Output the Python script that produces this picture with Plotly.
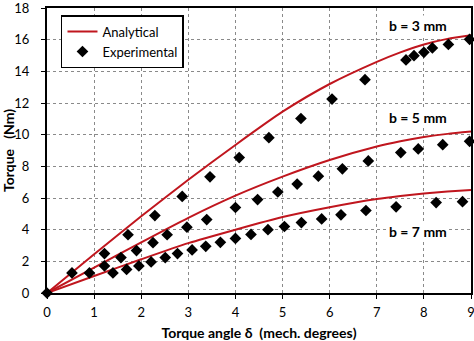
import plotly.graph_objects as go

# Analytical curves
ana_x = [0, 1, 2, 3, 4, 5, 6, 7, 7.5, 8, 8.5, 9]
ana_b3 = [0, 2.45, 4.85, 7.15, 9.35, 11.45, 13.2, 14.6, 15.2, 15.7, 16.05, 16.28]
ana_b5 = [0, 1.6, 3.2, 4.75, 6.15, 7.35, 8.4, 9.25, 9.58, 9.85, 10.05, 10.2]
ana_b7 = [0, 1.07, 2.13, 3.15, 4.0, 4.8, 5.42, 5.94, 6.13, 6.29, 6.41, 6.5]

# Experimental points
exp3_x = [0, 0.53, 1.22, 1.72, 2.29, 2.87, 3.46, 4.08, 4.71, 5.39, 6.05, 6.75, 7.62, 7.79, 8.00, 8.18, 8.52, 8.97]
exp3_y = [0, 1.27, 2.49, 3.68, 4.89, 6.10, 7.34, 8.55, 9.81, 11.02, 12.25, 13.47, 14.72, 14.99, 15.20, 15.48, 15.70, 16.02]
exp5_x = [0.90, 1.22, 1.57, 1.90, 2.25, 2.55, 2.97, 3.39, 4.00, 4.47, 4.90, 5.31, 5.76, 6.27, 6.82, 7.51, 7.88, 8.40, 8.97]
exp5_y = [1.27, 1.71, 2.24, 2.68, 3.18, 3.68, 4.16, 4.64, 5.40, 5.90, 6.38, 6.88, 7.38, 7.84, 8.34, 8.87, 9.10, 9.37, 9.58]
exp7_x = [1.40, 1.69, 1.95, 2.21, 2.51, 2.77, 3.08, 3.37, 3.68, 4.00, 4.33, 4.69, 5.04, 5.40, 5.83, 6.24, 6.77, 7.41, 8.26, 8.82]
exp7_y = [1.27, 1.49, 1.71, 1.96, 2.24, 2.49, 2.72, 2.95, 3.20, 3.45, 3.70, 4.00, 4.20, 4.45, 4.68, 4.94, 5.21, 5.44, 5.71, 5.77]

labels = ["b = 3 mm", "b = 5 mm", "b = 7 mm"]
label_x = [7.88, 7.88, 7.88]
label_y = [16.88, 11.06, 3.91]

RED = "#C0161E"
FONT = "Lato, Liberation Sans, sans-serif"

fig = go.Figure()
for i, ys in enumerate([ana_b3, ana_b5, ana_b7]):
    fig.add_trace(go.Scatter(x=ana_x, y=ys, mode="lines", line=dict(color=RED, width=2, shape="spline", smoothing=0.6),
                             name="Analytical", showlegend=(i == 0), legendrank=1))
for i, (xs, ys) in enumerate([(exp3_x, exp3_y), (exp5_x, exp5_y), (exp7_x, exp7_y)]):
    fig.add_trace(go.Scatter(x=xs, y=ys, mode="markers", marker=dict(symbol="diamond", color="black", size=9),
                             name="Experimental", showlegend=(i == 0), legendrank=2, cliponaxis=False))

for t, lx, ly in zip(labels, label_x, label_y):
    fig.add_annotation(x=lx, y=ly, text="<b>%s</b>" % t, showarrow=False,
                       font=dict(family=FONT, size=14, color="black"), bgcolor="white")

axis_common = dict(showgrid=True, gridcolor="#8a8a8a", griddash="dot", gridwidth=1,
                   showline=True, linecolor="black", linewidth=2, mirror=True,
                   ticks="outside", ticklen=4, tickcolor="black", ticklabeloverflow="allow",
                   automargin=False,
                   tickfont=dict(family=FONT, size=13, color="black"), zeroline=False)

fig.update_layout(
    width=474, height=341,
    margin=dict(l=47, r=3, t=8, b=48),
    paper_bgcolor="white", plot_bgcolor="white",
    xaxis=dict(range=[0, 9], dtick=1, ticklabelstandoff=2,
               title=dict(text="<b>Torque angle δ  (mech. degrees)</b>", standoff=14,
                          font=dict(family=FONT, size=14, color="black")), **axis_common),
    yaxis=dict(range=[0, 18], dtick=2, ticklabelstandoff=9,
               title=dict(text="<b>Torque   (Nm)</b>", standoff=4,
                          font=dict(family=FONT, size=14, color="black")), **axis_common),
    legend=dict(x=0.033, y=0.975, xanchor="left", yanchor="top", bgcolor="white",
                bordercolor="black", borderwidth=1.5, font=dict(family=FONT, size=13, color="black"),
                tracegroupgap=0, itemwidth=30),
    showlegend=True,
)

fig.write_html("out.html")
